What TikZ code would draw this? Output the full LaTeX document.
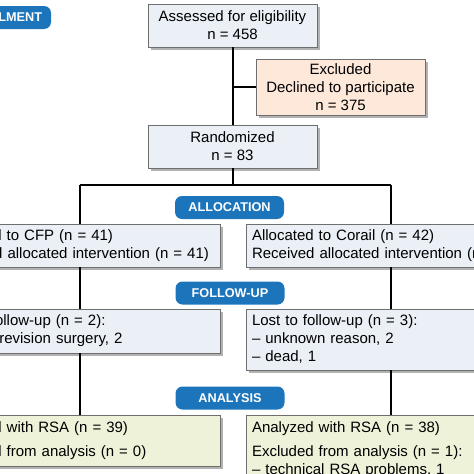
\documentclass[tikz,border=0pt]{standalone}
\usepackage{fontspec}
\setmainfont{Liberation Sans}
\usetikzlibrary{shadows}
\definecolor{boxblue}{HTML}{EBF0F7}
\definecolor{boxpeach}{HTML}{FDE8DA}
\definecolor{boxgreen}{HTML}{EEF2D9}
\definecolor{labelblue}{HTML}{1C74BB}
\definecolor{boxline}{HTML}{6E6E6E}
\begin{document}
\begin{tikzpicture}[x=1pt,y=-1pt,
  box/.style={draw=boxline, line width=1pt, fill=boxblue,
    drop shadow={shadow xshift=2.5pt, shadow yshift=-3pt, fill=black, opacity=0.3},
    font=\fontsize{15}{18}\selectfont, inner sep=0pt, outer sep=0pt},
  cbox/.style={box, align=center, minimum width=169pt},
  lbox/.style={box, align=left, text width=274pt, inner xsep=6pt},
  phase/.style={fill=labelblue, rounded corners=7pt, text=white,
    font=\fontsize{12.7}{14}\selectfont\bfseries, minimum width=109pt,
    minimum height=23pt, inner sep=0pt},
  conn/.style={line width=2pt, black}]
\useasboundingbox (0,0) rectangle (474,474);
\clip (0,0) rectangle (474,474);

\node[phase, minimum width=106pt] (enroll) at (-2,17.5) {ENROLLMENT};
\node[phase] (alloc) at (229.5,207.5) {ALLOCATION};
\node[phase] (follow) at (230,293) {FOLLOW-UP};
\node[phase] (analysis) at (230,398) {ANALYSIS};

\node[cbox, minimum height=43pt] (assess) at (232.5,25.5) {Assessed for eligibility\\n = 458};
\node[cbox, minimum height=56pt, fill=boxpeach] (excl) at (340.5,87) {Excluded\\Declined to participate\\n = 375};
\node[cbox, minimum height=43pt] (rand) at (232.5,146.5) {Randomized\\n = 83};

\node[lbox, minimum height=43pt] (allocL) at (77,245.5) {Allocated to CFP (n = 41)\\Received allocated intervention (n = 41)};
\node[lbox, minimum height=43pt] (allocR) at (389,245.5) {Allocated to Corail (n = 42)\\Received allocated intervention (n = 42)};

\node[lbox, minimum height=44pt] (lostL) at (77,331) {Lost to follow-up (n = 2):\\\hspace*{46pt}– revision surgery, 2};
\node[lbox, minimum height=61pt] (lostR) at (389,339.5) {Lost to follow-up (n = 3):\\– unknown reason, 2\\– dead, 1};

\node[lbox, minimum height=51pt, fill=boxgreen] (anaL) at (77,440.5) {Analyzed with RSA (n = 39)\\[6pt]Excluded from analysis (n = 0)};
\node[lbox, minimum height=70pt, fill=boxgreen, anchor=north] (anaR) at (389,415) {Analyzed with RSA (n = 38)\\[6pt]Excluded from analysis (n = 1):\\– technical RSA problems, 1};

\coordinate (split) at (232.5,185);
\coordinate (splitL) at (80,185);
\coordinate (splitR) at (391,185);

\draw[conn] (assess.south) -- (rand.north);
\draw[conn] (assess.south |- excl.west) -- (excl.west);
\draw[conn] (rand.south) -- (split);
\draw[conn] (splitL) -- (splitR);
\draw[conn] (splitL) -- (splitL |- allocL.north);
\draw[conn] (splitR) -- (splitR |- allocR.north);
\draw[conn] (allocL.south -| splitL) -- (lostL.north -| splitL);
\draw[conn] (allocR.south -| splitR) -- (lostR.north -| splitR);
\draw[conn] (lostL.south -| splitL) -- (anaL.north -| splitL);
\draw[conn] (lostR.south -| splitR) -- (anaR.north -| splitR);
\end{tikzpicture}
\end{document}
